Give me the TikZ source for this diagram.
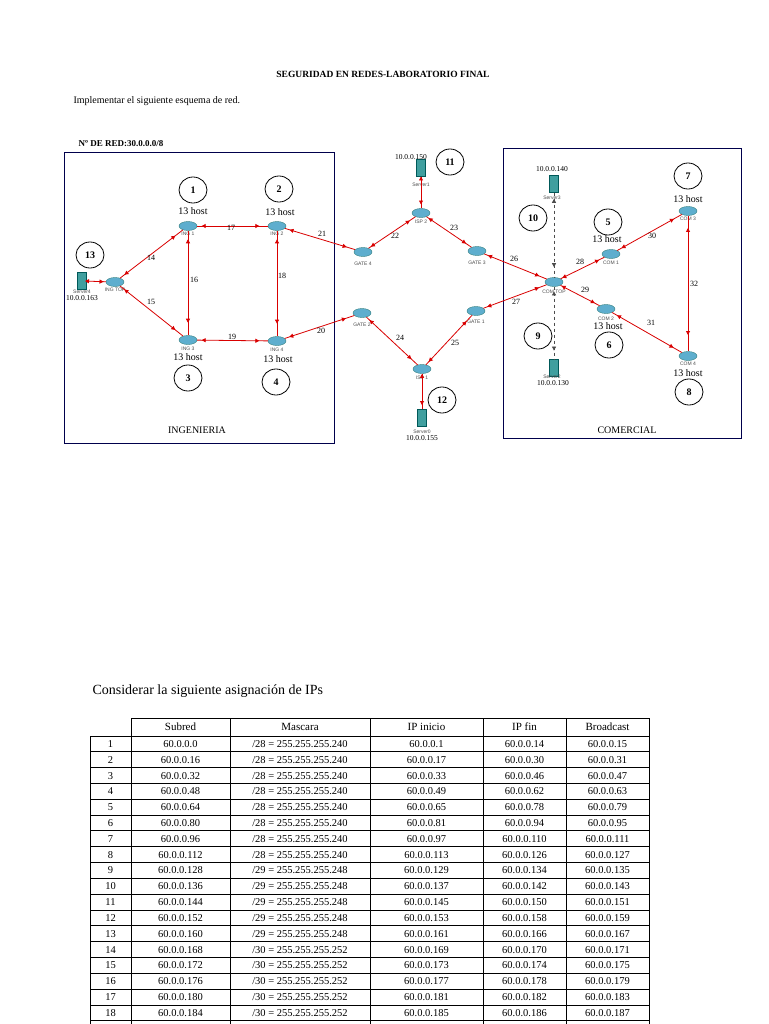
\documentclass[tikz,border=0pt]{standalone}
\usepackage{fontspec}
\setmainfont{Liberation Serif}
\newfontfamily\lsans{Liberation Sans}
\usetikzlibrary{decorations.markings,arrows.meta,shapes.geometric}
\begin{document}
\begin{tikzpicture}[x=1pt,y=-1pt,
 router/.style={ellipse,draw=teal!60!gray,fill=cyan!50!teal!75,minimum width=18pt,minimum height=9pt,inner sep=0pt},
 server/.style={rectangle,draw=teal!70!black,fill=teal!75,minimum width=9pt,minimum height=17pt,inner sep=0pt},
 rl/.style={font=\lsans\fontsize{5}{5}\selectfont,text=gray!60!black,inner sep=0pt},
 num/.style={ellipse,draw,thick,minimum width=28pt,minimum height=26pt,font=\bfseries\fontsize{10}{10}\selectfont,inner sep=0pt},
 host/.style={font=\fontsize{10}{10}\selectfont,inner sep=0pt},
 ll/.style={font=\fontsize{8}{8}\selectfont,inner sep=0pt},
 ip/.style={font=\fontsize{7.5}{7.5}\selectfont,inner sep=0pt},
 link/.style={red!85!black,line width=0.8pt,postaction={decorate},decoration={markings,
   mark=at position 0.12 with {\arrow{Triangle[length=4pt,width=4pt,reversed]}},
   mark=at position 0.88 with {\arrow{Triangle[length=4pt,width=4pt]}}}},
 dlink/.style={link,gray!60!black,dashed},
 tx/.style={font=\fontsize{10}{10}\selectfont,inner sep=0pt}]
\useasboundingbox (0,0) rectangle (768,1024);
\fill[white] (0,0) rectangle (768,1024);
% titles
\node[font=\bfseries\fontsize{9.5}{9.5}\selectfont] (title) at (383,74) {SEGURIDAD EN REDES-LABORATORIO FINAL};
\node[anchor=west,font=\fontsize{10}{10}\selectfont] (impl) at (70,101) {Implementar el siguiente esquema de red.};
\node[anchor=west,font=\bfseries\fontsize{9}{9}\selectfont] (nred) at (75,144) {Nº DE RED:30.0.0.0/8};
\draw[draw=blue!30!black,thick] (64,152) rectangle (334,443);
\draw[draw=blue!30!black,thick] (503,148) rectangle (741,438);
\node[tx] (ingt) at (197,430) {INGENIERIA};
\node[tx] (comt) at (627,430) {COMERCIAL};
% devices
\node[router] (ingtop) at (115,282) {}; \node[rl] at (115,290) {ING TOP};
\node[server] (s4) at (82,281) {}; \node[rl] at (82,292) {Server4}; \node[ip] at (82,298) {10.0.0.163};
\node[num] at (90,255) {13};
\node[router] (ing1) at (188,226) {}; \node[rl] at (188,234) {ING 1};
\node[host] at (193,211) {13 host}; \node[num] at (193,190) {1};
\node[router] (ing2) at (277,226) {}; \node[rl] at (277,234) {ING 2};
\node[host] at (280,212) {13 host}; \node[num] at (279,189) {2};
\node[router] (ing3) at (188,340) {}; \node[rl] at (188,349) {ING 3};
\node[host] at (188,357) {13 host}; \node[num] at (188,378) {3};
\node[router] (ing4) at (277,341) {}; \node[rl] at (277,350) {ING 4};
\node[host] at (278,359) {13 host}; \node[num] at (276,382) {4};
\node[router] (g4) at (363,252) {}; \node[rl] at (363,264) {GATE 4};
\node[router] (isp2) at (421,213) {}; \node[rl] at (421,222) {ISP 2};
\node[server] (s1) at (421,168) {}; \node[rl] at (421,185) {Server1};
\node[ip] at (411,157) {10.0.0.150}; \node[num] at (450,162) {11};
\node[router] (g3) at (477,251) {}; \node[rl] at (477,263) {GATE 3};
\node[router] (g2) at (362,313) {}; \node[rl] at (362,325) {GATE 2};
\node[router] (g1) at (476,311) {}; \node[rl] at (476,322) {GATE 1};
\node[router] (isp1) at (422,369) {}; \node[rl] at (422,378) {ISP 1};
\node[server] (s0) at (422,418) {}; \node[rl] at (422,432) {Server0};
\node[ip] at (422,438) {10.0.0.155}; \node[num] at (442,400) {12};
\node[router] (comtop) at (554,282) {}; \node[rl] at (554,292) {COM TOP};
\node[server] (s3) at (554,184) {}; \node[rl] at (552,198) {Server3};
\node[ip] at (552,169) {10.0.0.140}; \node[num] at (533,218) {10};
\node[server] (s2) at (554,368) {}; \node[rl] at (552,377) {Server2};
\node[ip] at (553,383) {10.0.0.130}; \node[num] at (538,336) {9};
\node[router] (com1) at (611,254) {}; \node[rl] at (611,263) {COM 1};
\node[host] at (607,239) {13 host}; \node[num] at (608,222) {5};
\node[router] (com3) at (688,211) {}; \node[rl] at (688,219) {COM 3};
\node[host] at (688,199) {13 host}; \node[num] at (688,176) {7};
\node[router] (com2) at (606,309) {}; \node[rl] at (606,319) {COM 2};
\node[host] at (608,326) {13 host}; \node[num] at (609,345) {6};
\node[router] (com4) at (688,356) {}; \node[rl] at (688,364) {COM 4};
\node[host] at (688,373) {13 host}; \node[num] at (689,392) {8};
% links
\draw[link] (ingtop) -- (ing1); \draw[link] (ingtop) -- (ing3);
\draw[link] (ing1) -- (ing3); \draw[link] (ing1) -- (ing2);
\draw[link] (ing2) -- (ing4); \draw[link] (ing3) -- (ing4);
\draw[link] (ing4) -- (g2); \draw[link] (ing2) -- (g4);
\draw[link] (g4) -- (isp2); \draw[link] (isp2) -- (g3);
\draw[link] (g2) -- (isp1); \draw[link] (isp1) -- (g1);
\draw[link] (g3) -- (comtop); \draw[link] (g1) -- (comtop);
\draw[link] (comtop) -- (com1); \draw[link] (comtop) -- (com2);
\draw[link] (com1) -- (com3); \draw[link] (com2) -- (com4);
\draw[link] (com3) -- (com4);
\draw[link] (s4) -- (ingtop);
\draw[link] (s1) -- (isp2); \draw[link] (isp1) -- (s0);
\draw[dlink] (s3) -- (comtop); \draw[dlink] (comtop) -- (s2);
% link labels
\foreach \t/\x/\y in {14/151/258,15/151/302,16/194/280,17/231/228,18/282/276,19/232/337,20/321/331,21/322/234,22/395/236,23/454/228,24/400/338,25/455/343,26/514/259,27/516/302,28/580/262,29/585/290,30/652/236,31/651/323,32/694/284}
  \node[ll] at (\x,\y) {\t};
% table
\node[anchor=west,font=\fontsize{14}{14}\selectfont] (cons) at (89,691) {Considerar la siguiente asignación de IPs};
\draw[line width=0.9pt] (131,718) -- (649,718);
\foreach \x in {131,230,370,483,566,649} \draw[line width=0.9pt] (\x,718) -- (\x,1024);
\draw[line width=0.9pt] (90,736) -- (90,1024);
\foreach \i in {0,...,18} \draw[line width=0.9pt] (90,736+\i*15.82) -- (649,736+\i*15.82);
\foreach \h/\x in {Subred/180.5,Mascara/300,IP inicio/426.5,IP fin/524.5,Broadcast/607.5}
  \node[font=\fontsize{11}{11}\selectfont] at (\x,727) {\h};
\foreach \n/\s/\m/\a/\b/\c in {1/0/28/1/14/15,2/16/28/17/30/31,3/32/28/33/46/47,4/48/28/49/62/63,5/64/28/65/78/79,6/80/28/81/94/95,7/96/28/97/110/111,8/112/28/113/126/127,9/128/29/129/134/135,10/136/29/137/142/143,11/144/29/145/150/151,12/152/29/153/158/159,13/160/29/161/166/167,14/168/30/169/170/171,15/172/30/173/174/175,16/176/30/177/178/179,17/180/30/181/182/183,18/184/30/185/186/187}{
  \pgfmathsetmacro\yy{744+(\n-1)*15.82}
  \ifnum\m=28 \def\mk{240}\fi \ifnum\m=29 \def\mk{248}\fi \ifnum\m=30 \def\mk{252}\fi
  \begin{scope}[font=\fontsize{10.5}{10.5}\selectfont]
  \node at (110.5,\yy) {\n};
  \node at (180.5,\yy) {60.0.0.\s};
  \node at (300,\yy) {/\m{} = 255.255.255.\mk};
  \node at (426.5,\yy) {60.0.0.\a};
  \node at (524.5,\yy) {60.0.0.\b};
  \node at (607.5,\yy) {60.0.0.\c};
  \end{scope}}
\end{tikzpicture}
\end{document}
